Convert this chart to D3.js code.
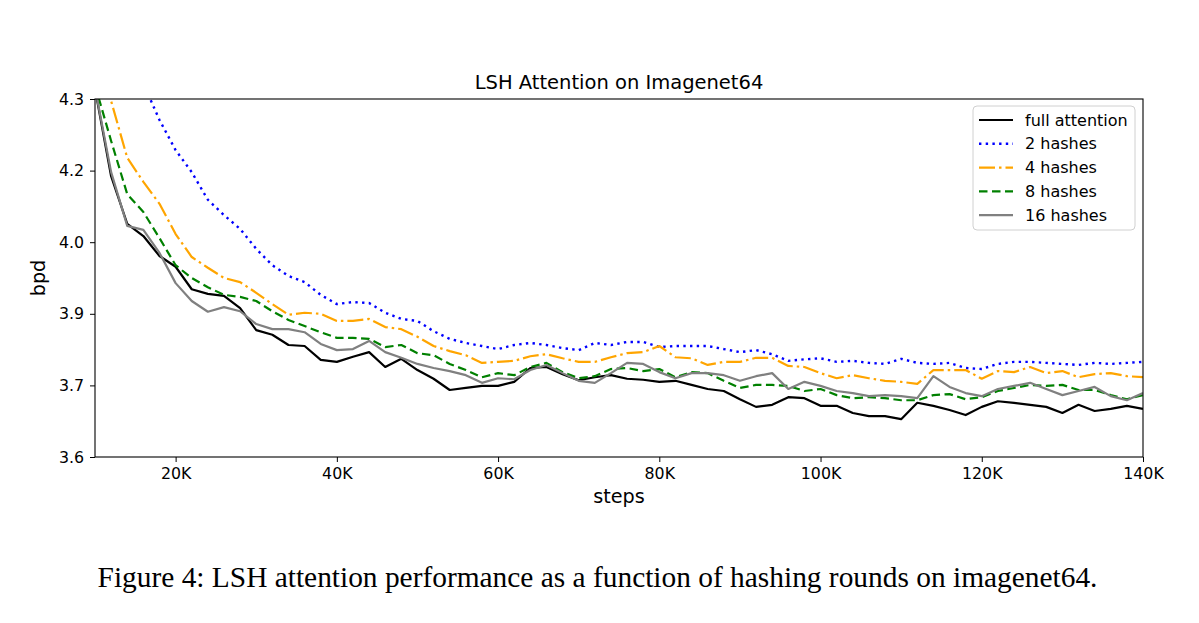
<!DOCTYPE html>
<html>
<head>
<meta charset="utf-8">
<script src="https://cdn.jsdelivr.net/npm/d3@7"></script>
<style>
  body { margin: 0; background: #fff; }
  text { font-family: "DejaVu Sans", sans-serif; }
</style>
</head>
<body>
<div id="chart"></div>
<script>

// training steps (every 2K)
var steps = [10000, 12000, 14000, 16000, 18000, 20000, 22000, 24000, 26000, 28000,
  30000, 32000, 34000, 36000, 38000, 40000, 42000, 44000, 46000, 48000,
  50000, 52000, 54000, 56000, 58000, 60000, 62000, 64000, 66000, 68000,
  70000, 72000, 74000, 76000, 78000, 80000, 82000, 84000, 86000, 88000,
  90000, 92000, 94000, 96000, 98000, 100000, 102000, 104000, 106000, 108000,
  110000, 112000, 114000, 116000, 118000, 120000, 122000, 124000, 126000, 128000,
  130000, 132000, 134000, 136000, 138000, 140000];

var fullAttention = [4.32, 4.149, 4.056, 4.032, 3.993, 3.972, 3.928, 3.919, 3.915, 3.891,
  3.848, 3.839, 3.819, 3.817, 3.790, 3.786, 3.796, 3.805, 3.776, 3.792,
  3.770, 3.753, 3.731, 3.735, 3.739, 3.739, 3.747, 3.774, 3.776, 3.762,
  3.750, 3.756, 3.760, 3.753, 3.751, 3.747, 3.749, 3.741, 3.733, 3.729,
  3.713, 3.698, 3.702, 3.717, 3.715, 3.700, 3.700, 3.686, 3.680, 3.680,
  3.674, 3.706, 3.700, 3.692, 3.682, 3.698, 3.709, 3.706, 3.702, 3.698,
  3.686, 3.702, 3.690, 3.694, 3.700, 3.694];

var hashes2 = [4.55, 4.47, 4.40, 4.33, 4.259, 4.200, 4.157, 4.103, 4.073, 4.046,
  4.007, 3.975, 3.954, 3.942, 3.917, 3.899, 3.903, 3.901, 3.882, 3.870,
  3.866, 3.846, 3.831, 3.823, 3.817, 3.811, 3.819, 3.823, 3.819, 3.813,
  3.809, 3.823, 3.819, 3.825, 3.825, 3.815, 3.817, 3.817, 3.817, 3.811,
  3.805, 3.809, 3.801, 3.788, 3.791, 3.793, 3.786, 3.788, 3.784, 3.782,
  3.792, 3.784, 3.782, 3.784, 3.774, 3.772, 3.782, 3.786, 3.786, 3.784,
  3.782, 3.780, 3.784, 3.782, 3.784, 3.786];

var hashes4 = [4.38, 4.296, 4.185, 4.138, 4.095, 4.036, 3.991, 3.970, 3.950, 3.942,
  3.921, 3.899, 3.878, 3.882, 3.880, 3.866, 3.866, 3.870, 3.854, 3.850,
  3.835, 3.817, 3.807, 3.799, 3.784, 3.786, 3.788, 3.797, 3.801, 3.793,
  3.786, 3.786, 3.795, 3.803, 3.805, 3.817, 3.795, 3.793, 3.780, 3.786,
  3.786, 3.794, 3.794, 3.778, 3.776, 3.764, 3.754, 3.760, 3.754, 3.749,
  3.747, 3.743, 3.770, 3.770, 3.770, 3.753, 3.768, 3.766, 3.776, 3.764,
  3.768, 3.756, 3.762, 3.764, 3.758, 3.756];

var hashes8 = [4.327, 4.218, 4.114, 4.079, 4.028, 3.975, 3.950, 3.932, 3.917, 3.913,
  3.905, 3.885, 3.868, 3.856, 3.844, 3.833, 3.833, 3.831, 3.815, 3.819,
  3.803, 3.799, 3.782, 3.770, 3.756, 3.764, 3.760, 3.776, 3.784, 3.766,
  3.754, 3.758, 3.772, 3.774, 3.768, 3.772, 3.756, 3.766, 3.764, 3.749,
  3.735, 3.741, 3.741, 3.739, 3.729, 3.733, 3.721, 3.715, 3.717, 3.715,
  3.711, 3.711, 3.721, 3.723, 3.713, 3.717, 3.729, 3.735, 3.741, 3.739,
  3.741, 3.731, 3.731, 3.721, 3.713, 3.721];

var hashes16 = [4.322, 4.157, 4.052, 4.044, 3.999, 3.940, 3.905, 3.884, 3.893, 3.885,
  3.860, 3.850, 3.850, 3.844, 3.821, 3.809, 3.811, 3.827, 3.805, 3.794,
  3.782, 3.774, 3.768, 3.760, 3.745, 3.754, 3.752, 3.770, 3.780, 3.764,
  3.749, 3.745, 3.764, 3.784, 3.782, 3.766, 3.754, 3.764, 3.764, 3.760,
  3.749, 3.758, 3.764, 3.733, 3.747, 3.739, 3.729, 3.725, 3.719, 3.721,
  3.719, 3.715, 3.758, 3.737, 3.725, 3.719, 3.733, 3.739, 3.745, 3.733,
  3.721, 3.729, 3.737, 3.719, 3.711, 3.725];

var seriesNames = ['full attention', '2 hashes', '4 hashes', '8 hashes', '16 hashes'];
var seriesValues = [fullAttention, hashes2, hashes4, hashes8, hashes16];

var xTicks = [20000, 40000, 60000, 80000, 100000, 120000, 140000];
var yTicks = [4.30, 4.16, 4.02, 3.88, 3.74, 3.60];

var chartTitle = 'LSH Attention on Imagenet64';
var caption = 'Figure 4: LSH attention performance as a function of hashing rounds on imagenet64.';

(function(){

  // styles per series (same order as names)
  var styles = [
    {color: '#000000', dash: null, width: 2.2},
    {color: '#0000ff', dash: '2.4,4.3', width: 2.4},
    {color: '#ffa500', dash: '16,4,2.5,4', width: 2.2},
    {color: '#008000', dash: '8.5,4.5', width: 2.2},
    {color: '#808080', dash: null, width: 2.2}
  ];

  var width = 1199, height = 623;
  var plotLeft = 95, plotRight = 1143, plotTop = 99, plotBottom = 457;

  var svg = d3.select('#chart')
    .append('svg')
      .attr('width', width)
      .attr('height', height);

  var x = d3.scaleLinear().domain([10000, 140000]).range([plotLeft, plotRight]);
  var y = d3.scaleLinear().domain([3.6, 4.3]).range([plotBottom, plotTop]);

  svg.append('defs').append('clipPath')
      .attr('id', 'plotClip')
    .append('rect')
      .attr('x', plotLeft).attr('y', plotTop)
      .attr('width', plotRight - plotLeft).attr('height', plotBottom - plotTop);

  var line = d3.line()
    .x(function(d){ return x(d[0]); })
    .y(function(d){ return y(d[1]); });

  var lines = svg.append('g').attr('clip-path', 'url(#plotClip)');

  seriesValues.forEach(function(vals, i){
    var pts = steps.map(function(s, j){ return [s, vals[j]]; });
    lines.append('path')
      .datum(pts)
      .attr('d', line)
      .attr('fill', 'none')
      .attr('stroke', styles[i].color)
      .attr('stroke-width', styles[i].width)
      .attr('stroke-dasharray', styles[i].dash)
      .attr('stroke-linejoin', 'round');
  });

  // axes
  var xAxis = d3.axisBottom(x)
    .tickValues(xTicks)
    .tickSize(5)
    .tickPadding(6)
    .tickFormat(function(d){ return (d / 1000) + 'K'; });

  var yAxis = d3.axisLeft(y)
    .tickValues(yTicks)
    .tickSize(5)
    .tickPadding(6)
    .tickFormat(d3.format('.1f'));

  var gx = svg.append('g')
    .attr('transform', 'translate(0,' + plotBottom + ')')
    .call(xAxis);
  var gy = svg.append('g')
    .attr('transform', 'translate(' + plotLeft + ',0)')
    .call(yAxis);

  [gx, gy].forEach(function(g){
    g.select('.domain').remove();
    g.selectAll('line').attr('stroke', '#000').attr('stroke-width', 1);
    g.selectAll('text')
      .attr('fill', '#000')
      .style('font-size', '15.8px')
      .style('font-family', '"DejaVu Sans", sans-serif');
  });

  // frame
  svg.append('rect')
    .attr('x', plotLeft).attr('y', plotTop)
    .attr('width', plotRight - plotLeft).attr('height', plotBottom - plotTop)
    .attr('fill', 'none')
    .attr('stroke', '#000')
    .attr('stroke-width', 1.1);

  // title and axis labels
  svg.append('text')
    .attr('x', (plotLeft + plotRight) / 2)
    .attr('y', 89)
    .attr('text-anchor', 'middle')
    .style('font-size', '19.5px')
    .text(chartTitle);

  svg.append('text')
    .attr('x', (plotLeft + plotRight) / 2)
    .attr('y', 503)
    .attr('text-anchor', 'middle')
    .style('font-size', '19.2px')
    .text('steps');

  svg.append('text')
    .attr('transform', 'translate(45,' + ((plotTop + plotBottom) / 2) + ') rotate(-90)')
    .attr('text-anchor', 'middle')
    .style('font-size', '19.2px')
    .text('bpd');

  // legend
  var legend = svg.append('g').attr('transform', 'translate(973,106)');
  legend.append('rect')
    .attr('width', 162).attr('height', 124)
    .attr('rx', 4)
    .attr('fill', '#fff')
    .attr('fill-opacity', 0.8)
    .attr('stroke', '#d0d0d0')
    .attr('stroke-width', 1);

  seriesNames.forEach(function(name, i){
    var ly = 14 + i * 23.8;
    legend.append('line')
      .attr('x1', 6).attr('x2', 40)
      .attr('y1', ly).attr('y2', ly)
      .attr('stroke', styles[i].color)
      .attr('stroke-width', styles[i].width)
      .attr('stroke-dasharray', styles[i].dash);
    legend.append('text')
      .attr('x', 52).attr('y', ly + 5.5)
      .style('font-size', '16px')
      .text(name);
  });

  // figure caption
  svg.append('text')
    .attr('x', 597.5)
    .attr('y', 587)
    .attr('text-anchor', 'middle')
    .style('font-family', '"Liberation Serif", "Times New Roman", serif')
    .style('font-size', '29.4px')
    .text(caption);

})();

</script>
</body>
</html>
